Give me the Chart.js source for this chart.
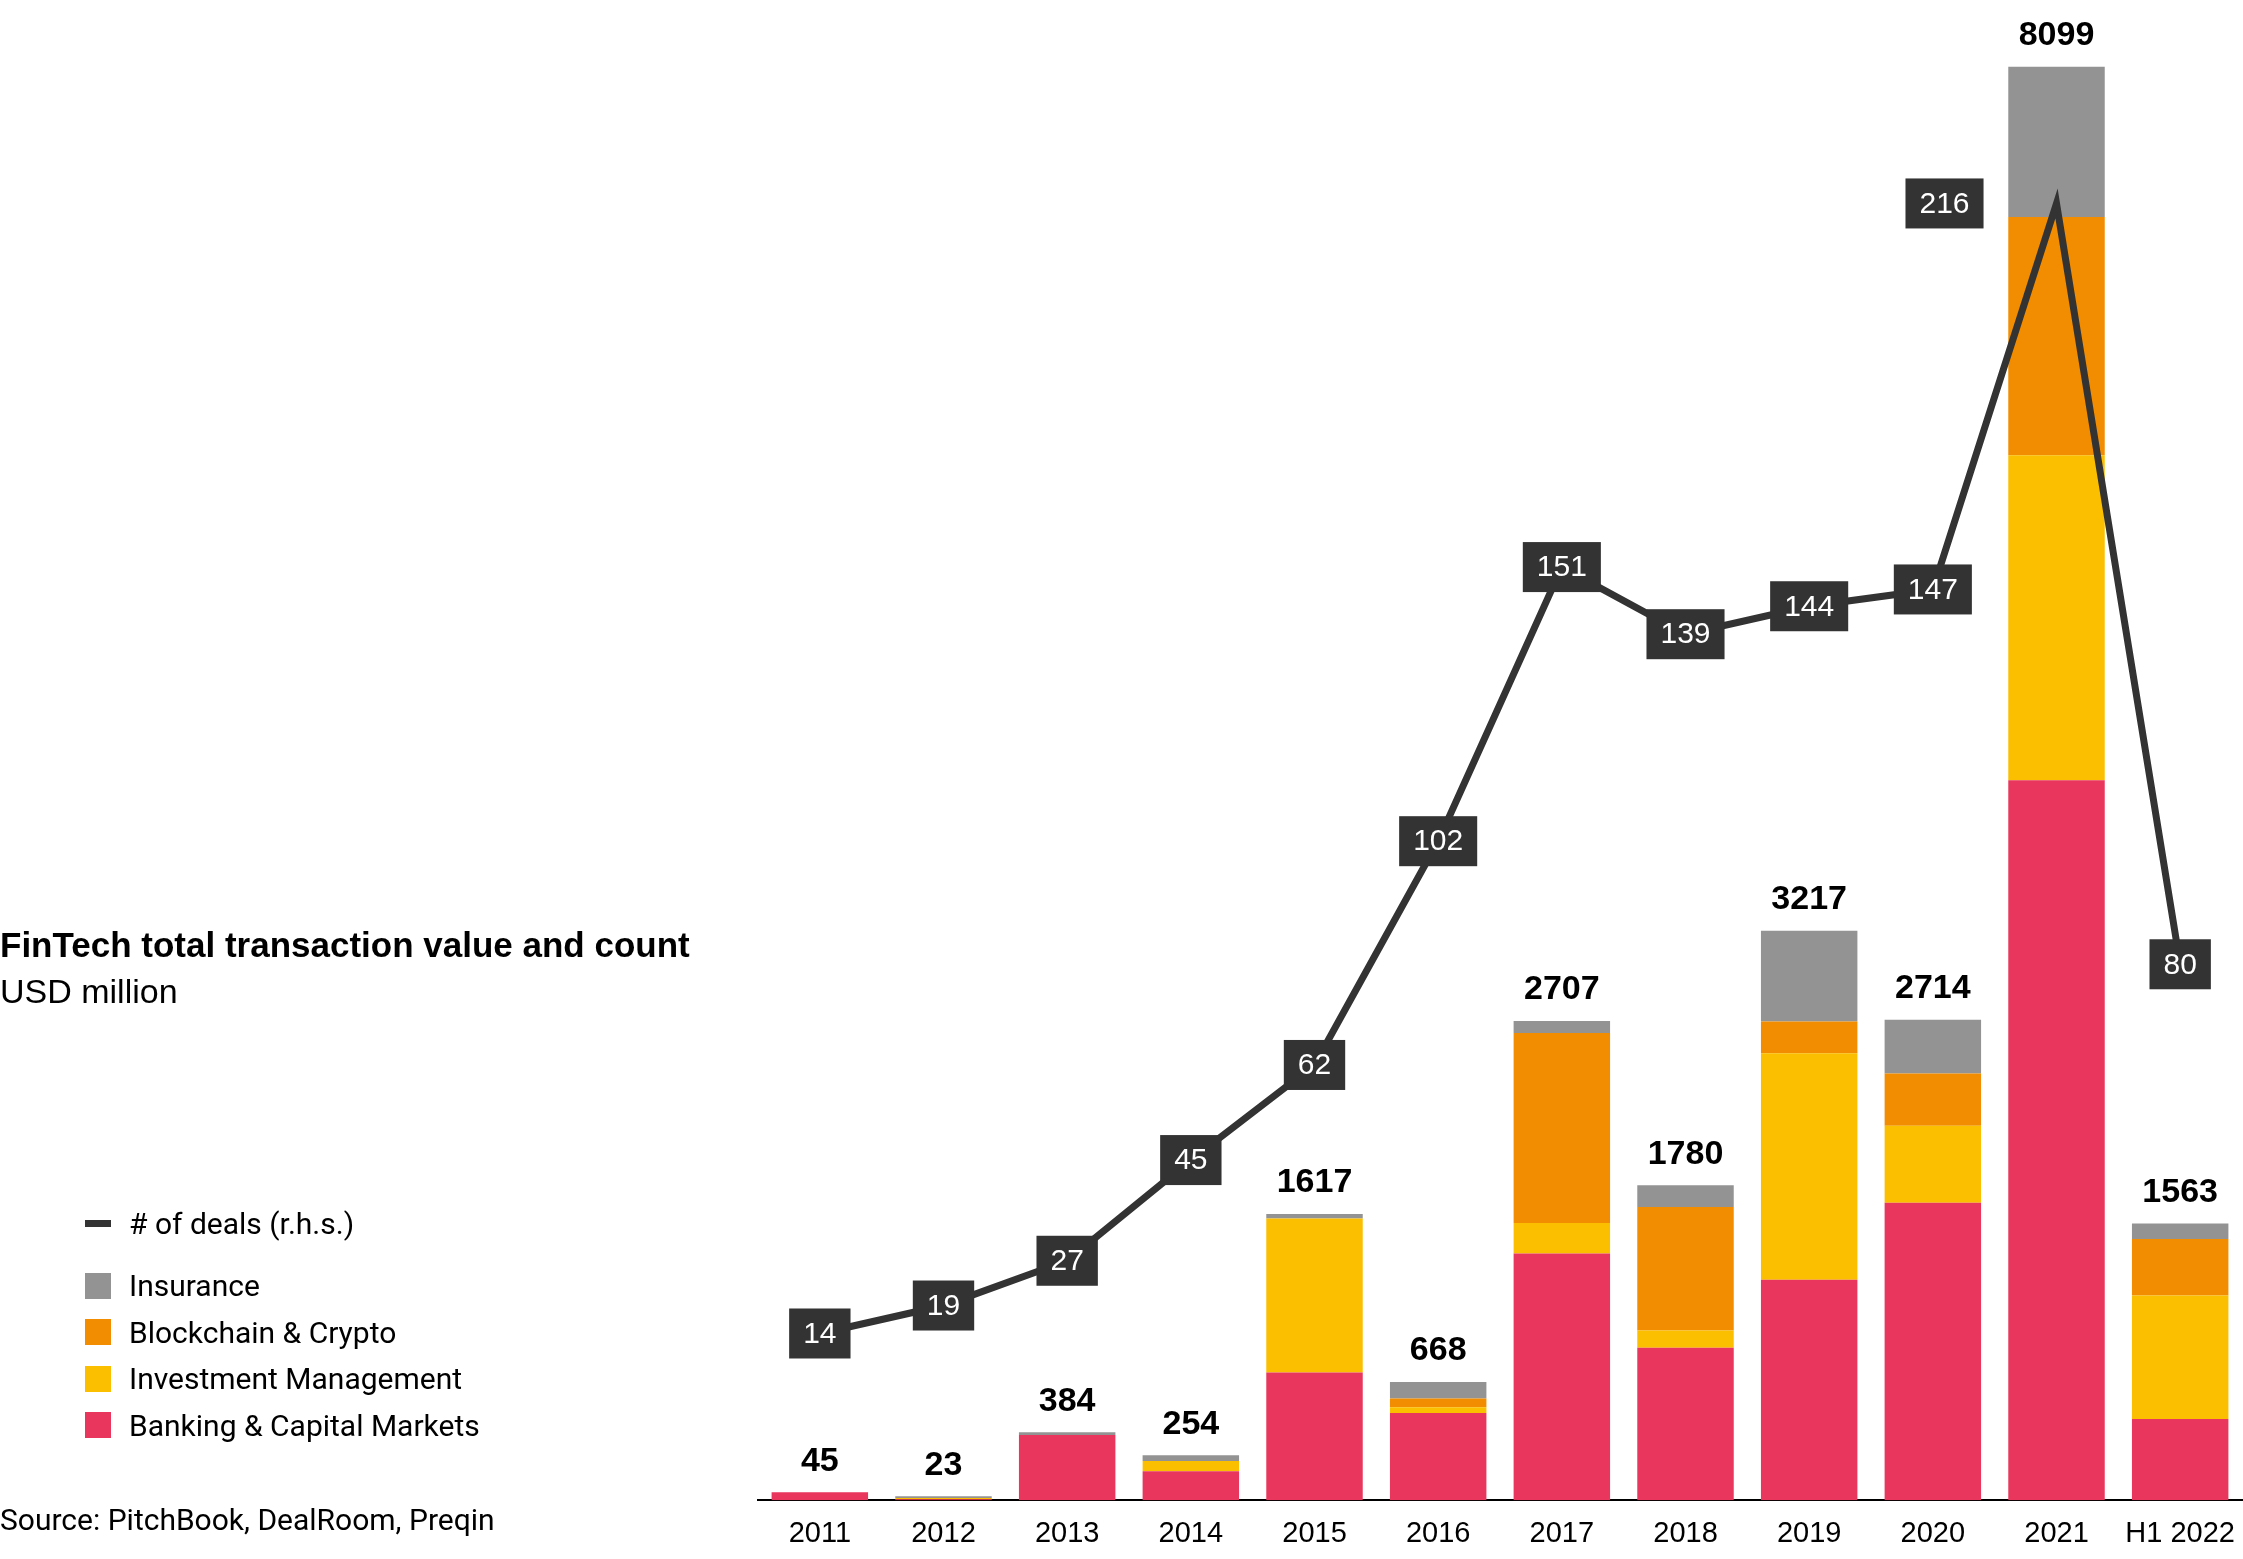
<!DOCTYPE html>
<html lang="en">
<head>
  <meta charset="UTF-8" />
  <title>FinTech total transaction value and count</title>
  <script src="https://cdn.jsdelivr.net/npm/chart.js"></script>
  <style>
    body { margin: 0; background: #fff; font-family: "Liberation Sans Narrow", Roboto, Arial, sans-serif; color: #000; }
    #wrap { position: relative; width: 2243px; height: 1559px; }
    canvas { position: absolute; left: 0; top: 0; }
    .title { position: absolute; left: 0; top: 925px; font: bold 35px Arial, "Liberation Sans", sans-serif; }
    .unit { position: absolute; left: 0; top: 972px; font: 34px Arial, "Liberation Sans", sans-serif; }
    .legend { position: absolute; left: 85px; top: 1200px; font-size: 30px; }
    .legend div { display: flex; align-items: center; height: 46.5px; }
    .legend span.sw { display: inline-block; width: 26px; height: 26px; margin-right: 18px; }
    .legend span.ln { display: inline-block; width: 26px; height: 7px; margin-right: 18px; background: #333; }
    .source { position: absolute; left: 0; top: 1502px; font-size: 30px; }
  </style>
</head>
<body>
<div id="wrap">
  <canvas id="c" width="2243" height="1559"></canvas>
  <div class="title">FinTech total transaction value and count</div>
  <div class="unit">USD million</div>
  <div class="legend">
    <div style="margin-bottom:16px"><span class="ln"></span># of deals (r.h.s.)</div>
    <div><span class="sw" style="background:#939393"></span>Insurance</div>
    <div><span class="sw" style="background:#f28c00"></span>Blockchain &amp; Crypto</div>
    <div><span class="sw" style="background:#fbbf00"></span>Investment Management</div>
    <div><span class="sw" style="background:#e8365c"></span>Banking &amp; Capital Markets</div>
  </div>
  <div class="source">Source: PitchBook, DealRoom, Preqin</div>
</div>
<script>
  const years = ["2011","2012","2013","2014","2015","2016","2017","2018","2019","2020","2021","H1 2022"];
  const banking = [45, 5, 369, 164, 722, 492, 1394, 861, 1246, 1681, 4067, 459];
  const investment = [0, 8, 0, 57, 869, 33, 172, 98, 1279, 435, 1837, 697];
  const blockchain = [0, 0, 0, 0, 0, 49, 1074, 697, 180, 295, 1345, 320];
  const insurance = [0, 10, 15, 33, 26, 94, 67, 124, 512, 303, 850, 87];
  const totals = [45, 23, 384, 254, 1617, 668, 2707, 1780, 3217, 2714, 8099, 1563];
  const deals = [14, 19, 27, 45, 62, 102, 151, 139, 144, 147, 216, 80];
  const dealLabelShift = [0, 0, 0, 0, 0, 0, 0, 0, 0, 0, -112, 0];

  const labelPlugin = {
    id: 'labels',
    afterDatasetsDraw(chart) {
      const ctx = chart.ctx;
      const barMeta = chart.getDatasetMeta(4);
      const lineMeta = chart.getDatasetMeta(0);
      const yL = chart.scales.y;
      ctx.save();
      ctx.textAlign = 'center';
      ctx.textBaseline = 'bottom';
      ctx.fillStyle = '#000';
      ctx.font = 'bold 34px "Liberation Sans Narrow", Arial, sans-serif';
      totals.forEach((t, i) => {
        const x = barMeta.data[i].x;
        ctx.fillText(String(t), x, yL.getPixelForValue(t) - 14);
      });
      ctx.font = '30px "Liberation Sans Narrow", Arial, sans-serif';
      ctx.textBaseline = 'middle';
      deals.forEach((d, i) => {
        const p = lineMeta.data[i];
        const x = p.x + dealLabelShift[i];
        const w = ctx.measureText(String(d)).width + 28, h = 50;
        ctx.fillStyle = '#333';
        ctx.fillRect(x - w / 2, p.y - h / 2, w, h);
        ctx.fillStyle = '#fff';
        ctx.fillText(String(d), x, p.y + 1);
      });
      ctx.restore();
    }
  };

  new Chart(document.getElementById('c'), {
    data: {
      labels: years,
      datasets: [
        { type: 'line', label: '# of deals (r.h.s.)', data: deals, yAxisID: 'y2', borderColor: '#333', borderWidth: 7, pointRadius: 0, tension: 0, order: 0 },
        { type: 'bar', label: 'Banking & Capital Markets', data: banking, backgroundColor: '#e8365c', stack: 's', order: 1 },
        { type: 'bar', label: 'Investment Management', data: investment, backgroundColor: '#fbbf00', stack: 's', order: 1 },
        { type: 'bar', label: 'Blockchain & Crypto', data: blockchain, backgroundColor: '#f28c00', stack: 's', order: 1 },
        { type: 'bar', label: 'Insurance', data: insurance, backgroundColor: '#939393', stack: 's', order: 1 }
      ]
    },
    options: {
      responsive: false,
      animation: false,
      barPercentage: 0.78,
      categoryPercentage: 1,
      layout: { padding: { left: 758, top: 58, right: 0, bottom: 0 } },
      plugins: { legend: { display: false }, tooltip: { enabled: false } },
      scales: {
        x: {
          stacked: true,
          grid: { display: false },
          border: { display: true, color: '#000', width: 2 },
          ticks: { color: '#000', font: { size: 29, family: '"Liberation Sans Narrow", Arial, sans-serif' }, padding: 8, maxRotation: 0 }
        },
        y: { stacked: true, display: false, min: 0, max: 8148 },
        y2: { display: false, position: 'right', min: -15.8, max: 242 }
      }
    },
    plugins: [labelPlugin]
  });
</script>
</body>
</html>
